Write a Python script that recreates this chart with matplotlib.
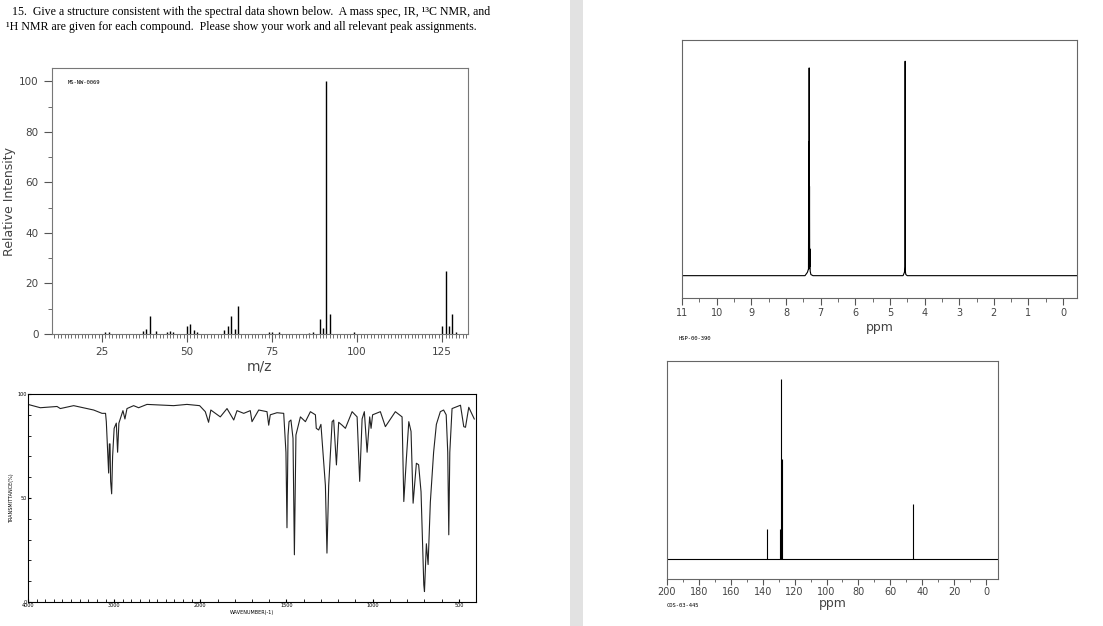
import matplotlib.pyplot as plt
from matplotlib.ticker import MultipleLocator, FixedLocator
import matplotlib.patches as patches

W, H = 1103, 626

# Mass spec sticks (m/z, relative intensity)
ms_mz = [26, 27, 37, 38, 39, 41, 44, 45, 46, 50, 51, 52, 53, 61, 62, 63, 64, 65,
         74, 75, 77, 86, 87, 89, 90, 91, 92, 99, 125, 126, 127, 128, 129]
ms_int = [0.6, 0.8, 1, 2, 7, 1.2, 0.6, 1, 0.6, 3, 4, 1.5, 0.8, 1.5, 3, 7, 2, 11,
          0.6, 0.6, 0.6, 0.5, 0.6, 6, 2.5, 100, 8, 0.8, 3, 25, 3, 8, 0.8]

# IR trace (wavenumber, %T)
ir_wn = [4000, 3857, 3663, 3625, 3470, 3238, 3141, 3100, 3091, 3075, 3064, 3056, 3048,
         3041, 3029, 3018, 3000, 2975, 2960, 2945, 2898, 2875, 2851, 2774, 2716, 2619,
         2310, 2155, 2008, 1971, 1952, 1939, 1884, 1845, 1806, 1787, 1748, 1710, 1700,
         1661, 1613, 1603, 1594, 1555, 1516, 1503, 1497, 1491, 1485, 1474, 1462, 1454,
         1445, 1419, 1390, 1361, 1332, 1327, 1313, 1300, 1274, 1265, 1255, 1235, 1226,
         1210, 1197, 1177, 1158, 1119, 1090, 1075, 1061, 1048, 1032, 1017, 1009, 1000,
         955, 926, 868, 829, 819, 804, 790, 777, 765, 746, 733, 719, 703, 699, 688,
         678, 665, 646, 630, 607, 588, 573, 564, 558, 552, 539, 490, 471, 461, 442, 410]
ir_t = [95, 93.4, 94, 93, 94.4, 92.3, 90.7, 90.7, 86.7, 72, 62, 76, 76,
        58, 52, 70, 83.5, 86, 72, 86, 92, 88, 93, 94.4, 93.4, 95,
        94.4, 95, 94.4, 91.5, 86.4, 92.3, 89, 93, 87.5, 92, 90.7, 92, 86.7,
        92.3, 91.5, 85, 90, 91, 90.7, 72, 35.7, 80, 86.7, 87.5, 78.7, 22.7,
        80.3, 89, 86.7, 91.5, 90, 83.5, 82.7, 85.4, 56, 23.5, 56, 86.7, 87.5,
        65.9, 86.4, 85, 83.5, 91.5, 89, 58, 88, 91.5, 72, 89, 83.5, 90,
        91.5, 84.3, 91.5, 89, 48.3, 69, 86.7, 82, 47.5, 66.7, 66, 53, 8.3, 5, 28,
        18, 48, 72, 85.4, 91.5, 92.3, 90, 72, 32.3, 72, 93, 94.6, 84.3, 84, 93.6, 88]

# 1H NMR trace (ppm, intensity)
h_ppm = [11, 7.45, 7.38, 7.35, 7.34, 7.335, 7.33, 7.325, 7.32, 7.315, 7.31, 7.30, 7.28,
         7.22, 4.62, 4.58, 4.565, 4.56, 4.555, 4.55, 4.54, 4.50, -0.4]
h_int = [0, 0, 1.5, 3, 60, 3, 93, 5, 40, 4, 12, 2, 0.5,
         0, 0, 1.5, 4, 96, 4, 1.5, 0.5, 0, 0]

# 13C NMR sticks (ppm, intensity)
c_ppm = [137.2, 128.9, 128.4, 128.0, 45.8]
c_int = [15.2, 15, 90.9, 50.5, 27.8]

title_1 = "15.  Give a structure consistent with the spectral data shown below.  A mass spec, IR, \u00b9\u00b3C NMR, and"
title_2 = "\u00b9H NMR are given for each compound.  Please show your work and all relevant peak assignments."


def box(x0, y0, x1, y1):
    return [x0 / W, 1 - y1 / H, (x1 - x0) / W, (y1 - y0) / H]


def ir_pos(w):
    # split wavenumber scale: half compression above 2000
    return w if w <= 2000 else 2000 + (w - 2000) / 2


fig = plt.figure(figsize=(W / 100, H / 100), dpi=100)
fig.patches.append(patches.Rectangle((570 / W, 0), 13 / W, 1, transform=fig.transFigure,
                                     facecolor="#e2e2e2", edgecolor="none"))
fig.text(12 / W, 1 - 12 / H, title_1, family="Liberation Serif", fontsize=8.6, va="center")
fig.text(6 / W, 1 - 27 / H, title_2, family="Liberation Serif", fontsize=8.6, va="center")

tick_grey = "#555555"

# ---- Mass spec
ax = fig.add_axes(box(52, 68, 468, 334))
ax.vlines(ms_mz, 0, ms_int, color="black", lw=1)
ax.set_xlim(10.3, 132.6)
ax.set_ylim(0, 105.3)
ax.xaxis.set_major_locator(FixedLocator([25, 50, 75, 100, 125]))
ax.xaxis.set_minor_locator(MultipleLocator(1))
ax.yaxis.set_minor_locator(MultipleLocator(10))
ax.set_yticks([0, 20, 40, 60, 80, 100])
ax.tick_params(which="major", length=6, color=tick_grey, labelsize=7.5, labelcolor="#444")
ax.tick_params(which="minor", length=3, color=tick_grey)
ax.set_xlabel("m/z", fontsize=10, color="#444", labelpad=2)
ax.set_ylabel("Relative Intensity", fontsize=9, color="#444", labelpad=2)
ax.text(15, 99, "MS-NW-0069", fontsize=4, family="DejaVu Sans Mono")
for s in ax.spines.values():
    s.set_color("#777")

# ---- IR
ax = fig.add_axes(box(28, 394, 476, 602))
ax.plot([ir_pos(w) for w in ir_wn], ir_t, color="#222", lw=0.8)
ax.set_xlim(ir_pos(4000), ir_pos(400))
ax.set_ylim(0, 100)
ax.set_xticks([ir_pos(w) for w in [4000, 3000, 2000, 1500, 1000, 500]])
ax.set_xticklabels(["4000", "3000", "2000", "1500", "1000", "500"])
ax.xaxis.set_minor_locator(FixedLocator([ir_pos(w) for w in range(400, 4001, 100)]))
ax.set_yticks([0, 50, 100])
ax.yaxis.set_minor_locator(MultipleLocator(10))
ax.tick_params(which="both", direction="in", length=2, labelsize=3.5, pad=1)
ax.set_xlabel("WAVENUMBER(-1)", fontsize=3.5, labelpad=1)
ax.set_ylabel("TRANSMITTANCE(%)", fontsize=3.5, labelpad=2)

# ---- 1H NMR
ax = fig.add_axes(box(682, 40, 1077, 298))
ax.plot(h_ppm, h_int, color="black", lw=0.8)
ax.set_xlim(11, -0.4)
ax.set_ylim(-10, 105.5)
ax.set_yticks([])
ax.xaxis.set_major_locator(MultipleLocator(1))
ax.xaxis.set_minor_locator(MultipleLocator(0.5))
ax.tick_params(which="major", length=5, color=tick_grey, labelsize=7, labelcolor="#444", pad=2)
ax.tick_params(which="minor", length=3, color=tick_grey)
ax.set_xlabel("ppm", fontsize=9, color="#444", labelpad=2)
ax.text(11.1, -29, "HSP-00-390", fontsize=4, family="DejaVu Sans Mono", clip_on=False)
for s in ax.spines.values():
    s.set_color("#666")

# ---- 13C NMR
ax = fig.add_axes(box(667, 361, 998, 579))
ax.axhline(0, color="black", lw=0.8)
ax.vlines(c_ppm, 0, c_int, color="black", lw=0.8)
ax.set_xlim(200, -7.5)
ax.set_ylim(-10, 100)
ax.set_yticks([])
ax.xaxis.set_major_locator(MultipleLocator(20))
ax.xaxis.set_minor_locator(MultipleLocator(10))
ax.tick_params(which="major", length=4, color=tick_grey, labelsize=7, labelcolor="#444", pad=2)
ax.tick_params(which="minor", length=2, color=tick_grey)
ax.set_xlabel("ppm", fontsize=9, color="#444", labelpad=0)
ax.text(200, -24, "CDS-03-445", fontsize=4, family="DejaVu Sans Mono", clip_on=False)
for s in ax.spines.values():
    s.set_color("#666")

fig.savefig("out.png", dpi=100)
